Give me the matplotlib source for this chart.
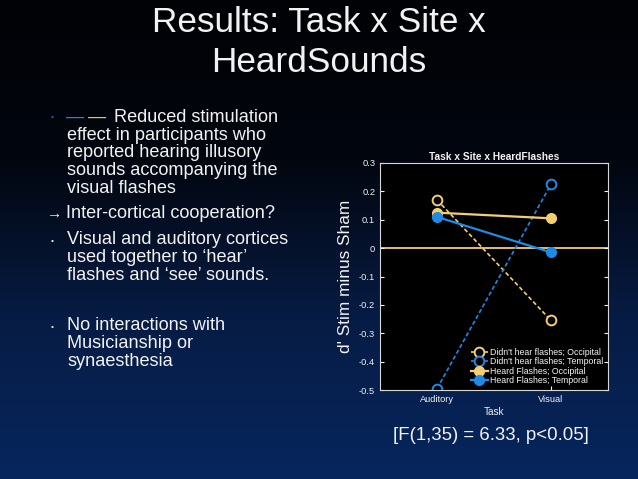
import matplotlib.pyplot as plt
import numpy as np
from matplotlib.colors import LinearSegmentedColormap

plt.rcParams['font.family'] = ['Liberation Sans', 'DejaVu Sans']

tasks = ['Auditory', 'Visual']
no_hear_occ = [0.17, -0.255]
no_hear_temp = [-0.495, 0.225]
heard_occ = [0.125, 0.105]
heard_temp = [0.11, -0.015]
yticks = [-0.5, -0.4, -0.3, -0.2, -0.1, 0, 0.1, 0.2, 0.3]
ytick_labels = ['-0.5', '-0.4', '-0.3', '-0.2', '-0.1', '0', '0.1', '0.2', '0.3']

yellow = '#f3cf72'
blue = '#1f8ae6'
white = '#f2f2f2'

fig = plt.figure(figsize=(6.38, 4.79), dpi=100)

# slide background, dark at top going to navy at the bottom
bg = fig.add_axes([0, 0, 1, 1], zorder=-10)
cmap = LinearSegmentedColormap.from_list('slide', ['#010205', '#02060f', '#071c44', '#06265e'])
grad = np.linspace(0, 1, 256).reshape(-1, 1)
bg.imshow(grad, aspect='auto', cmap=cmap, extent=[0, 1, 0, 1], origin='upper')
bg.set_axis_off()

fig.text(0.5, 1 - 23 / 479, 'Results: Task x Site x', color=white, fontsize=25.3, ha='center', va='center')
fig.text(0.5, 1 - 63 / 479, 'HeardSounds', color=white, fontsize=25.3, ha='center', va='center')

def ftext(x, y, s, **kw):
    fig.text(x / 638, 1 - y / 479, s, va='center', **kw)

fs = 13.1
ls = 17.8
ftext(52, 118, '•', color='#1f6fd0', fontsize=6, ha='center')
ftext(66, 117, '—', color='#2a7ff0', fontsize=fs)
ftext(88, 117, '—', color='#e8c25a', fontsize=fs)
ftext(114, 117, 'Reduced stimulation', color=white, fontsize=fs)
for i, line in enumerate(['effect in participants who', 'reported hearing illusory',
                          'sounds accompanying the', 'visual flashes']):
    ftext(67, 135 + i * ls, line, color=white, fontsize=fs)
ftext(47, 214, '→', color=white, fontsize=11)
ftext(66, 213, 'Inter-cortical cooperation?', color=white, fontsize=fs)
ftext(52, 241, '•', color=white, fontsize=6, ha='center')
for i, line in enumerate(['Visual and auditory cortices', 'used together to ‘hear’',
                          'flashes and ‘see’ sounds.']):
    ftext(67, 240 + i * ls, line, color=white, fontsize=fs)
ftext(52, 327, '•', color=white, fontsize=6, ha='center')
for i, line in enumerate(['No interactions with', 'Musicianship or', 'synaesthesia']):
    ftext(67, 326 + i * ls, line, color=white, fontsize=fs)

ftext(491, 436, '[F(1,35) = 6.33, p<0.05]', color=white, fontsize=13.4, ha='center')

ax = fig.add_axes([380 / 638, 89 / 479, 228 / 638, 227 / 479])
ax.set_facecolor('black')
x = np.arange(1, len(tasks) + 1)
ax.axhline(0, color=yellow, lw=1.3, zorder=1)
ax.plot(x, no_hear_occ, '--o', color=yellow, lw=1.2, ms=7, mfc='black', mew=1.4,
        dashes=(2.5, 1.5), label="Didn't hear flashes; Occipital")
ax.plot(x, no_hear_temp, '--o', color=blue, lw=1.2, ms=7, mfc='black', mew=1.4,
        dashes=(2.5, 1.5), label="Didn't hear flashes; Temporal")
ax.plot(x, heard_occ, '-o', color=yellow, lw=1.6, ms=7, mec=yellow, mfc=yellow,
        label='Heard Flashes; Occipital')
ax.plot(x, heard_temp, '-o', color=blue, lw=1.6, ms=7, mec=blue, mfc=blue,
        label='Heard Flashes; Temporal')

ax.set_xlim(0.5, 2.5)
ax.set_ylim(-0.5, 0.3)
ax.set_xticks(x)
ax.set_xticklabels(tasks)
ax.set_yticks(yticks)
ax.set_yticklabels(ytick_labels)
ax.tick_params(colors=white, labelsize=6.7, direction='in', length=3, right=True, top=False)
for sp in ax.spines.values():
    sp.set_color('#d8d8d8')
    sp.set_linewidth(0.8)
ax.set_title('Task x Site x HeardFlashes', color=white, fontsize=7.3, fontweight='bold', pad=2)
ax.set_xlabel('Task', color=white, fontsize=7.2, labelpad=2)
ax.set_ylabel("d' Stim minus Sham", color=white, fontsize=12.4, labelpad=4)

leg = ax.legend(loc='lower right', fontsize=6.3, frameon=False, handlelength=2.0,
                handletextpad=0.2, labelspacing=0.05, borderaxespad=0.15)
for t in leg.get_texts():
    t.set_color(white)

fig.savefig('out.png', dpi=100)
